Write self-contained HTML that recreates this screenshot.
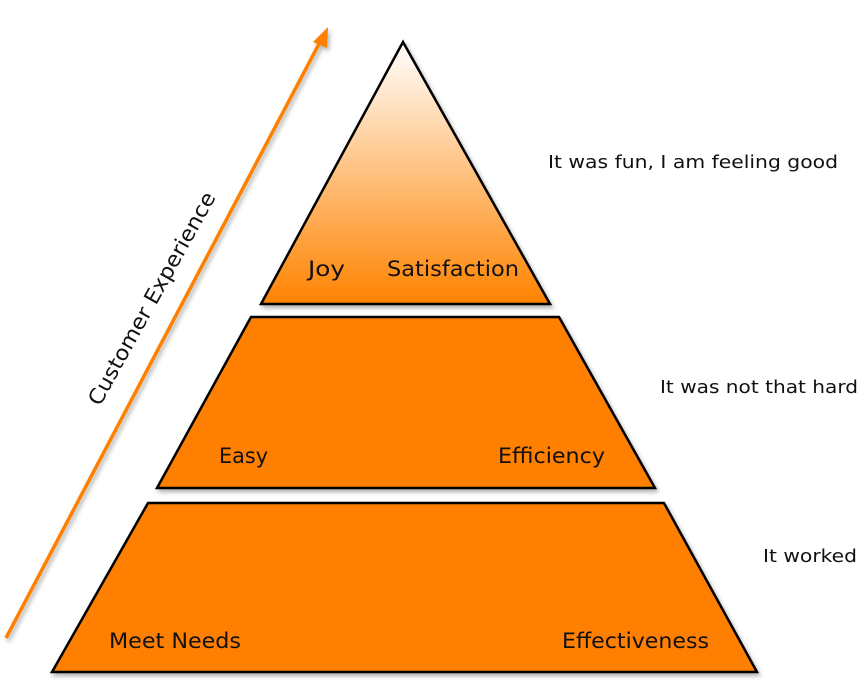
<!DOCTYPE html>
<html><head><style>html,body{margin:0;padding:0;background:#fff;width:865px;height:692px;overflow:hidden}</style></head>
<body>
<svg width="865" height="692" xmlns="http://www.w3.org/2000/svg" font-family="'DejaVu Sans','Liberation Sans',sans-serif">
<defs>
<linearGradient id="g" x1="0" y1="0" x2="0" y2="1">
<stop offset="0" stop-color="#ffffff"/><stop offset="1" stop-color="#ff8300"/>
</linearGradient>
<filter id="s" x="-10%" y="-10%" width="120%" height="120%"><feDropShadow dx="2" dy="3" stdDeviation="2" flood-opacity="0.3"/></filter>
</defs>
<g stroke="#000" stroke-width="2.5" stroke-linejoin="miter" filter="url(#s)">
<polygon points="403,42 261,304 550,304" fill="url(#g)"/>
<polygon points="251,317 559,317 655,488 157,488" fill="#ff7f00"/>
<polygon points="148,503 664,503 757,672 52,672" fill="#ff7f00"/>
</g>
<g filter="url(#s)">
<line x1="6" y1="638" x2="320" y2="42" stroke="#ff7f00" stroke-width="3.5"/>
<polygon points="328,27 313,42 327,48" fill="#ff7f00"/>
</g>
<g font-size="21" fill="#111">
<text x="308" y="276" textLength="37" lengthAdjust="spacingAndGlyphs">Joy</text>
<text x="387" y="276" textLength="132" lengthAdjust="spacingAndGlyphs">Satisfaction</text>
<text x="219" y="463" textLength="49" lengthAdjust="spacingAndGlyphs">Easy</text>
<text x="498" y="463" textLength="107" lengthAdjust="spacingAndGlyphs">Efficiency</text>
<text x="109" y="648" textLength="132" lengthAdjust="spacingAndGlyphs">Meet Needs</text>
<text x="562" y="648" textLength="147" lengthAdjust="spacingAndGlyphs">Effectiveness</text>
<text x="158" y="302" text-anchor="middle" textLength="240" lengthAdjust="spacingAndGlyphs" transform="rotate(-61 158 302)">Customer Experience</text>
</g>
<g font-size="18" fill="#111">
<text x="548" y="168" textLength="290" lengthAdjust="spacingAndGlyphs">It was fun, I am feeling good</text>
<text x="660" y="393" textLength="198" lengthAdjust="spacingAndGlyphs">It was not that hard</text>
<text x="763" y="562" textLength="94" lengthAdjust="spacingAndGlyphs">It worked</text>
</g>
</svg>
</body></html>
